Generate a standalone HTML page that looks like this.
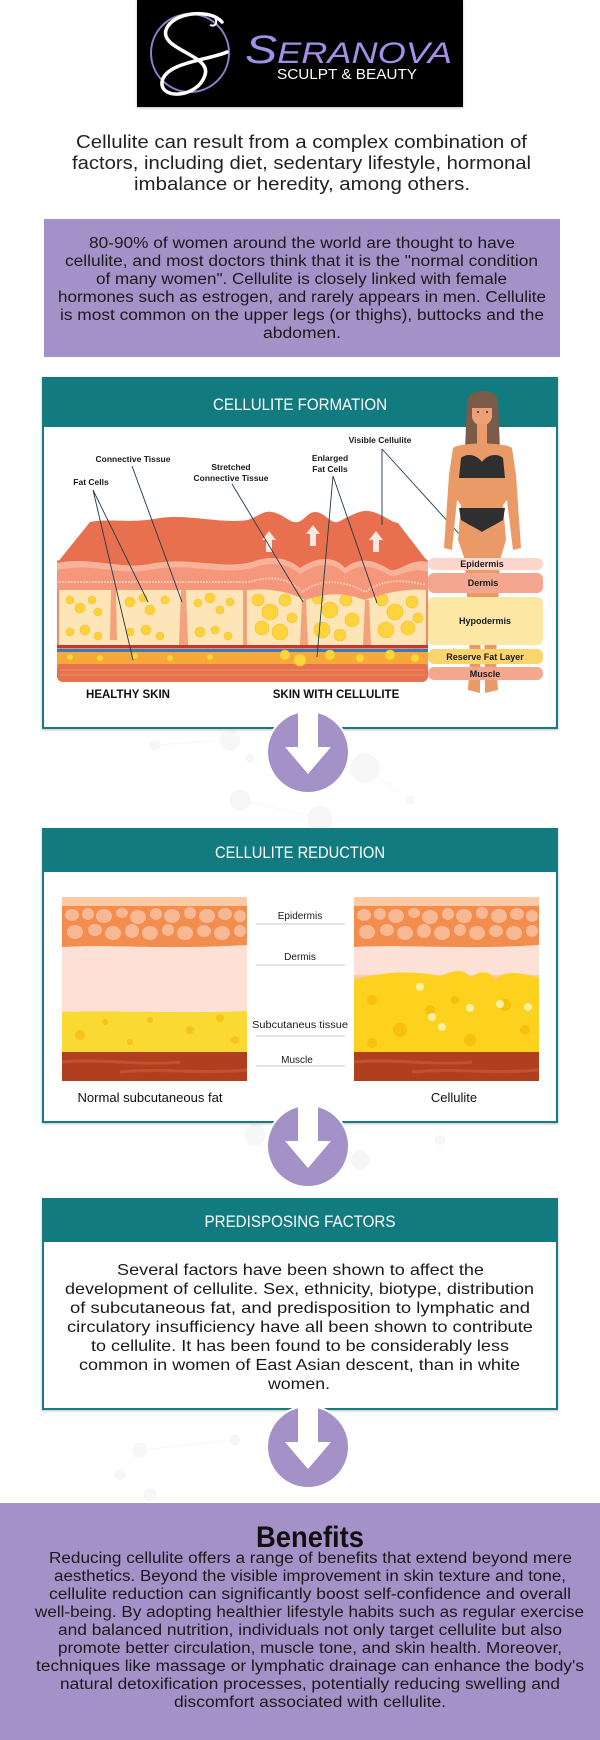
<!DOCTYPE html>
<html><head><meta charset="utf-8"><style>
html,body{margin:0;padding:0;background:#fff;}
svg{display:block;}
text{font-family:"Liberation Sans",sans-serif;}
</style></head><body>
<svg width="600" height="1740" viewBox="0 0 600 1740" xmlns="http://www.w3.org/2000/svg">
<defs>
<filter id="sh" x="-5%" y="-5%" width="110%" height="110%"><feDropShadow dx="0" dy="1" stdDeviation="1.2" flood-color="#000" flood-opacity="0.25"/></filter>
</defs>
<g fill="#f7f7f7" stroke="#f6f6f6" stroke-width="1">
<circle cx="230" cy="740" r="10"/><circle cx="155" cy="745" r="5"/><circle cx="250" cy="758" r="4"/><circle cx="365" cy="768" r="14"/><circle cx="240" cy="800" r="10"/><circle cx="320" cy="818" r="12"/><circle cx="410" cy="800" r="4"/>
<circle cx="255" cy="1135" r="10"/><circle cx="440" cy="1140" r="5"/><circle cx="360" cy="1160" r="9"/>
<circle cx="140" cy="1450" r="7"/><circle cx="120" cy="1475" r="5"/><circle cx="150" cy="1495" r="6"/><circle cx="235" cy="1440" r="5"/>
<line x1="155" y1="745" x2="230" y2="740"/><line x1="240" y1="800" x2="320" y2="818"/><line x1="365" y1="768" x2="410" y2="800"/>
<line x1="120" y1="1475" x2="140" y2="1450"/><line x1="140" y1="1450" x2="235" y2="1440"/>
</g>

<rect x="137" y="0" width="326" height="107" fill="#000" filter="url(#sh)"/>
<circle cx="190" cy="53" r="39" fill="none" stroke="#8f7fc9" stroke-width="2"/>
<path d="M222,22 C210,8 172,12 166,30 C160,50 212,55 205,75 C198,98 160,100 162,82 C165,62 210,60 227,52" fill="none" stroke="#fff" stroke-width="3.5" stroke-linecap="round"/>
<path d="M210,25 C218,28 218,18 212,15" fill="none" stroke="#fff" stroke-width="2"/>
<text x="245" y="63" font-family="Liberation Serif,serif" font-style="italic" font-size="30" fill="#a38fe6" textLength="207" lengthAdjust="spacingAndGlyphs"><tspan font-size="40">S</tspan>ERANOVA</text>
<text x="277" y="79" font-size="15" fill="#fff" textLength="140" lengthAdjust="spacingAndGlyphs">SCULPT &amp; BEAUTY</text>

<g font-size="18" fill="#222">
<text x="76" y="148" textLength="451" lengthAdjust="spacingAndGlyphs">Cellulite can result from a complex combination of</text>
<text x="72" y="169" textLength="459" lengthAdjust="spacingAndGlyphs">factors, including diet, sedentary lifestyle, hormonal</text>
<text x="134" y="190" textLength="336" lengthAdjust="spacingAndGlyphs">imbalance or heredity, among others.</text>
</g>

<rect x="44" y="219" width="516" height="138" fill="#a391c8"/>
<g font-size="15.5" fill="#1a1a1a">
<text x="89" y="248" textLength="426" lengthAdjust="spacingAndGlyphs">80-90% of women around the world are thought to have</text>
<text x="65" y="266" textLength="473" lengthAdjust="spacingAndGlyphs">cellulite, and most doctors think that it is the "normal condition</text>
<text x="96" y="284" textLength="411" lengthAdjust="spacingAndGlyphs">of many women". Cellulite is closely linked with female</text>
<text x="58" y="302" textLength="488" lengthAdjust="spacingAndGlyphs">hormones such as estrogen, and rarely appears in men. Cellulite</text>
<text x="60" y="320" textLength="484" lengthAdjust="spacingAndGlyphs">is most common on the upper legs (or thighs), buttocks and the</text>
<text x="263" y="338" textLength="78" lengthAdjust="spacingAndGlyphs">abdomen.</text>
</g>

<rect x="43" y="378" width="514" height="350" fill="#fff" stroke="#127b80" stroke-width="2" filter="url(#sh)"/>
<rect x="42" y="377" width="516" height="50" fill="#127b80"/>
<text x="300" y="410" text-anchor="middle" font-size="17" fill="#fff" textLength="174" lengthAdjust="spacingAndGlyphs">CELLULITE FORMATION</text>

<g>
<rect x="57" y="560" width="371" height="122" rx="6" fill="#ee8a64"/>
<rect x="57" y="663" width="371" height="19" rx="6" fill="#e87250"/>
<line x1="60" y1="670" x2="425" y2="670" stroke="#f09070" stroke-width="1"/>
<line x1="60" y1="675" x2="425" y2="675" stroke="#f09070" stroke-width="1"/>
<rect x="57" y="652" width="371" height="12" fill="#f6a93a"/>
<rect x="57" y="645" width="371" height="3" fill="#c9342c"/>
<rect x="57" y="649" width="371" height="3" fill="#2e7fbd"/>
<rect x="59" y="588" width="367" height="57" fill="#fde5b8"/>
<g fill="#f2a27d">
<path d="M111,590 L116,590 L117,640 L110,640Z"/><path d="M181,590 L186,590 L188,645 L179,645Z"/><path d="M243,590 L247,590 L247,645 L243,645Z"/><path d="M302,600 L306,600 L308,645 L300,645Z"/><path d="M365,600 L369,600 L371,645 L363,645Z"/>
</g>
<g fill="#fbd23c" stroke="#f7c02a" stroke-width="0.6">
<circle cx="70" cy="600" r="4"/><circle cx="80" cy="608" r="5"/><circle cx="92" cy="600" r="4"/><circle cx="98" cy="612" r="4"/><circle cx="130" cy="602" r="5"/><circle cx="143" cy="598" r="4"/><circle cx="150" cy="610" r="5"/><circle cx="165" cy="600" r="4"/><circle cx="198" cy="603" r="4"/><circle cx="210" cy="598" r="5"/><circle cx="220" cy="610" r="4"/><circle cx="230" cy="602" r="4"/>
<circle cx="70" cy="632" r="4"/><circle cx="85" cy="630" r="5"/><circle cx="98" cy="636" r="4"/><circle cx="130" cy="632" r="4"/><circle cx="146" cy="630" r="5"/><circle cx="160" cy="636" r="4"/><circle cx="200" cy="632" r="5"/><circle cx="215" cy="630" r="4"/><circle cx="228" cy="636" r="4"/>
</g>
<g fill="#fcd43f" stroke="#f5bd25" stroke-width="0.6">
<circle cx="258" cy="600" r="6"/><circle cx="270" cy="612" r="8"/><circle cx="285" cy="600" r="6"/><circle cx="262" cy="628" r="7"/><circle cx="280" cy="632" r="8"/><circle cx="292" cy="618" r="5"/>
<circle cx="318" cy="598" r="6"/><circle cx="330" cy="610" r="8"/><circle cx="346" cy="600" r="6"/><circle cx="352" cy="620" r="7"/><circle cx="322" cy="630" r="8"/><circle cx="340" cy="635" r="6"/>
<circle cx="382" cy="600" r="6"/><circle cx="395" cy="612" r="8"/><circle cx="412" cy="602" r="6"/><circle cx="386" cy="630" r="8"/><circle cx="408" cy="628" r="7"/><circle cx="418" cy="618" r="5"/>
<circle cx="70" cy="657" r="3"/><circle cx="100" cy="658" r="3"/><circle cx="135" cy="656" r="3"/><circle cx="170" cy="658" r="3"/><circle cx="210" cy="657" r="3"/><circle cx="285" cy="655" r="5"/><circle cx="300" cy="660" r="6"/><circle cx="330" cy="655" r="5"/><circle cx="360" cy="658" r="4"/><circle cx="390" cy="655" r="5"/><circle cx="415" cy="658" r="4"/>
</g>
<path d="M57,560 C90,566 120,556 150,562 C180,568 210,556 250,562 C270,548 290,548 300,565 C315,550 330,548 345,565 C360,548 375,548 395,565 C410,556 420,556 428,560 L428,590 C400,588 380,595 365,600 C350,595 335,590 305,600 C290,592 270,588 250,590 L57,590Z" fill="#f4977a"/>
<path d="M59,582 L250,582 C270,575 290,578 302,592 C320,578 345,580 365,592 C385,578 405,580 426,585" fill="none" stroke="#fbd3c1" stroke-width="2" stroke-dasharray="1.5 1.5"/>
<path d="M57,563 L90,522 C110,518 130,524 160,518 C190,514 220,524 248,520 C258,516 265,510 272,512 C284,514 290,524 298,522 C305,520 308,512 315,512 C325,512 330,524 338,522 C350,516 360,510 368,511 C380,512 390,522 398,523 L428,562 C410,558 400,572 390,570 C375,560 360,556 345,568 C335,556 318,556 300,568 C285,556 268,556 252,562 C220,570 190,556 150,564 C120,570 90,556 57,563Z" fill="#e9704f"/>
<path d="M57,563 C90,556 120,570 150,564 C190,556 220,570 252,562 C268,556 285,556 300,568 C318,556 335,556 345,568 C360,556 375,560 390,570 C400,572 410,558 428,562 L428,572 C410,566 400,578 390,576 C375,566 360,562 345,574 C335,562 318,562 300,574 C285,562 268,562 252,568 C220,576 190,562 150,570 C120,576 90,562 57,570Z" fill="#f7b29a"/>
<g fill="#fde8e1"><path d="M272,552 L266,552 L266,540 L262,540 L269,531 L276,540 L272,540Z"/><path d="M316,546 L310,546 L310,534 L306,534 L313,525 L320,534 L316,534Z"/><path d="M379,552 L373,552 L373,540 L369,540 L376,531 L383,540 L379,540Z"/></g>
</g>
<g stroke="#1d3a4e" stroke-width="0.9" fill="none">
<path d="M93,490 L148,602 M93,490 L133,660"/>
<path d="M132,466 L182,602"/>
<path d="M232,484 L303,602"/>
<path d="M333,476 L377,603 M333,476 L317,657"/>
<path d="M382,449 L382,525 M382,449 L461,536"/>
</g>
<g font-size="8.5" font-weight="bold" fill="#1a1a1a" text-anchor="middle">
<text x="91" y="485">Fat Cells</text>
<text x="133" y="462">Connective Tissue</text>
<text x="231" y="470">Stretched</text>
<text x="231" y="481">Connective Tissue</text>
<text x="330" y="461">Enlarged</text>
<text x="330" y="472">Fat Cells</text>
<text x="380" y="443">Visible Cellulite</text>
</g>
<text x="128" y="698" text-anchor="middle" font-size="11.5" font-weight="bold" fill="#111">HEALTHY SKIN</text>
<text x="336" y="698" text-anchor="middle" font-size="11.5" font-weight="bold" fill="#111">SKIN WITH CELLULITE</text>

<g>
<path d="M467,400 C470,388 495,388 498,400 L500,450 L465,450Z" fill="#7a5a48"/>
<path d="M453,448 C460,442 505,442 512,448 L516,475 L521,548 L513,550 L507,500 L503,505 L506,540 L500,560 L496,660 L498,690 L485,693 L484,600 L481,600 L480,693 L468,690 L470,660 L465,560 L458,540 L461,505 L457,500 L452,550 L444,548 L449,475Z" fill="#e99a66"/>
<ellipse cx="482" cy="412" rx="11" ry="14" fill="#eca276"/>
<rect x="477" y="424" width="10" height="20" fill="#e99a66"/>
<path d="M469,404 C472,394 492,394 495,404 L495,430 L492,430 L492,408 L472,408 L472,430 L469,430Z" fill="#7a5a48"/>
<path d="M461,458 C468,452 478,456 482,462 C486,456 496,452 503,458 L505,478 L459,478Z" fill="#2f2f2f"/>
<path d="M459,508 L505,508 L503,520 C495,525 488,528 482,532 C476,528 469,525 461,520Z" fill="#2f2f2f"/>
<circle cx="478" cy="412" r="1" fill="#333"/><circle cx="487" cy="412" r="1" fill="#333"/>
</g>
<g>
<rect x="428" y="558" width="115" height="12" rx="6" fill="#fcd6cc"/>
<rect x="428" y="573" width="115" height="20" rx="6" fill="#f5a68e"/>
<rect x="428" y="597" width="115" height="48" rx="6" fill="#fde7a4"/>
<rect x="428" y="649" width="115" height="15" rx="6" fill="#fcd46e"/>
<rect x="428" y="667" width="115" height="13" rx="6" fill="#f5a68e"/>
</g>
<g font-size="9" font-weight="bold" fill="#1a1a1a" text-anchor="middle">
<text x="482" y="567">Epidermis</text>
<text x="483" y="586">Dermis</text>
<text x="485" y="624">Hypodermis</text>
<text x="485" y="660">Reserve Fat Layer</text>
<text x="485" y="677">Muscle</text>
</g>

<rect x="43" y="829" width="514" height="293" fill="#fff" stroke="#127b80" stroke-width="2" filter="url(#sh)"/>
<rect x="42" y="828" width="516" height="44" fill="#127b80"/>
<text x="300" y="858" text-anchor="middle" font-size="17" fill="#fff" textLength="170" lengthAdjust="spacingAndGlyphs">CELLULITE REDUCTION</text>

<g>
<rect x="62" y="897" width="185" height="184" fill="#fbc9a3"/>
<rect x="62" y="906" width="185" height="43" fill="#f38d4e"/>
<g fill="#f8b894">
<ellipse cx="72" cy="915" rx="7" ry="6"/><ellipse cx="88" cy="914" rx="6" ry="6"/><ellipse cx="104" cy="916" rx="8" ry="7"/><ellipse cx="122" cy="913" rx="6" ry="5"/><ellipse cx="138" cy="917" rx="8" ry="7"/><ellipse cx="156" cy="914" rx="6" ry="6"/><ellipse cx="172" cy="916" rx="8" ry="7"/><ellipse cx="190" cy="913" rx="6" ry="6"/><ellipse cx="207" cy="916" rx="8" ry="7"/><ellipse cx="225" cy="914" rx="7" ry="6"/><ellipse cx="240" cy="916" rx="6" ry="6"/>
<ellipse cx="75" cy="932" rx="8" ry="7"/><ellipse cx="95" cy="930" rx="7" ry="6"/><ellipse cx="113" cy="933" rx="8" ry="7"/><ellipse cx="132" cy="931" rx="7" ry="7"/><ellipse cx="150" cy="933" rx="8" ry="7"/><ellipse cx="168" cy="930" rx="6" ry="6"/><ellipse cx="185" cy="933" rx="8" ry="7"/><ellipse cx="204" cy="931" rx="7" ry="6"/><ellipse cx="222" cy="933" rx="8" ry="7"/><ellipse cx="240" cy="931" rx="6" ry="6"/>
</g>
<path d="M62,947 C110,944 160,950 247,945 L247,1012 L62,1012Z" fill="#fde0d6"/>
<path d="M62,1012 C120,1010 180,1014 247,1011 L247,1052 L62,1052Z" fill="#fbd933"/>
<g fill="#f7c417"><circle cx="80" cy="1035" r="5"/><circle cx="105" cy="1022" r="3"/><circle cx="150" cy="1020" r="3"/><circle cx="190" cy="1030" r="4"/><circle cx="220" cy="1018" r="4"/><circle cx="235" cy="1040" r="4"/><circle cx="130" cy="1042" r="3"/></g>
<rect x="62" y="1052" width="185" height="29" fill="#b03f1f"/>
<path d="M62,1062 C100,1058 140,1066 180,1062 M120,1072 C160,1068 200,1074 247,1070" stroke="#c2522c" stroke-width="3" fill="none"/>
</g>
<g>
<rect x="354" y="897" width="185" height="184" fill="#fbc9a3"/>
<rect x="354" y="906" width="185" height="43" fill="#f38d4e"/>
<g fill="#f8b894">
<ellipse cx="364" cy="915" rx="7" ry="6"/><ellipse cx="380" cy="914" rx="6" ry="6"/><ellipse cx="396" cy="916" rx="8" ry="7"/><ellipse cx="414" cy="913" rx="6" ry="5"/><ellipse cx="430" cy="917" rx="8" ry="7"/><ellipse cx="448" cy="914" rx="6" ry="6"/><ellipse cx="464" cy="916" rx="8" ry="7"/><ellipse cx="482" cy="913" rx="6" ry="6"/><ellipse cx="499" cy="916" rx="8" ry="7"/><ellipse cx="517" cy="914" rx="7" ry="6"/><ellipse cx="532" cy="916" rx="6" ry="6"/>
<ellipse cx="367" cy="932" rx="8" ry="7"/><ellipse cx="387" cy="930" rx="7" ry="6"/><ellipse cx="405" cy="933" rx="8" ry="7"/><ellipse cx="424" cy="931" rx="7" ry="7"/><ellipse cx="442" cy="933" rx="8" ry="7"/><ellipse cx="460" cy="930" rx="6" ry="6"/><ellipse cx="477" cy="933" rx="8" ry="7"/><ellipse cx="496" cy="931" rx="7" ry="6"/><ellipse cx="514" cy="933" rx="8" ry="7"/><ellipse cx="532" cy="931" rx="6" ry="6"/>
</g>
<path d="M354,947 C400,944 460,950 539,945 L539,975 L354,975Z" fill="#fde0d6"/>
<path d="M354,980 C380,972 410,970 440,976 C455,970 465,968 470,978 C480,970 490,970 495,980 C505,970 520,972 539,978 L539,1052 L354,1052Z" fill="#fcd21e"/>
<g fill="#f7bf0e"><circle cx="372" cy="1000" r="5"/><circle cx="400" cy="1030" r="7"/><circle cx="430" cy="1010" r="5"/><circle cx="470" cy="1040" r="6"/><circle cx="505" cy="1005" r="6"/><circle cx="525" cy="1030" r="5"/><circle cx="372" cy="1043" r="5"/><circle cx="455" cy="1000" r="4"/></g>
<g fill="#fdf0a0"><circle cx="420" cy="987" r="4"/><circle cx="470" cy="1008" r="4"/><circle cx="500" cy="1004" r="4"/><circle cx="432" cy="1017" r="4"/><circle cx="442" cy="1027" r="4"/><circle cx="528" cy="1007" r="4"/></g>
<rect x="354" y="1052" width="185" height="29" fill="#b03f1f"/>
<path d="M354,1062 C392,1058 432,1066 472,1062 M412,1072 C452,1068 492,1074 539,1070" stroke="#c2522c" stroke-width="3" fill="none"/>
</g>
<g stroke="#c8c8c8" stroke-width="1">
<line x1="256" y1="924" x2="345" y2="924"/><line x1="256" y1="965" x2="345" y2="965"/><line x1="256" y1="1036" x2="345" y2="1036"/><line x1="256" y1="1066" x2="345" y2="1066"/>
</g>
<g font-size="10" fill="#1a1a1a" text-anchor="middle">
<text x="300" y="919">Epidermis</text>
<text x="300" y="960">Dermis</text>
<text x="300" y="1028" textLength="96" lengthAdjust="spacingAndGlyphs">Subcutaneus tissue</text>
<text x="297" y="1063">Muscle</text>
</g>
<text x="150" y="1102" text-anchor="middle" font-size="13" fill="#111" textLength="145" lengthAdjust="spacingAndGlyphs">Normal subcutaneous fat</text>
<text x="454" y="1102" text-anchor="middle" font-size="13" fill="#111">Cellulite</text>

<rect x="43" y="1199" width="514" height="210" fill="#fff" stroke="#127b80" stroke-width="2" filter="url(#sh)"/>
<rect x="42" y="1198" width="516" height="44" fill="#127b80"/>
<text x="300" y="1227" text-anchor="middle" font-size="17" fill="#fff" textLength="191" lengthAdjust="spacingAndGlyphs">PREDISPOSING FACTORS</text>
<g font-size="16" fill="#1a1a1a">
<text x="117" y="1275" textLength="367" lengthAdjust="spacingAndGlyphs">Several factors have been shown to affect the</text>
<text x="65" y="1294" textLength="469" lengthAdjust="spacingAndGlyphs">development of cellulite. Sex, ethnicity, biotype, distribution</text>
<text x="70" y="1313" textLength="460" lengthAdjust="spacingAndGlyphs">of subcutaneous fat, and predisposition to lymphatic and</text>
<text x="67" y="1332" textLength="466" lengthAdjust="spacingAndGlyphs">circulatory insufficiency have all been shown to contribute</text>
<text x="91" y="1351" textLength="418" lengthAdjust="spacingAndGlyphs">to cellulite. It has been found to be considerably less</text>
<text x="79" y="1370" textLength="441" lengthAdjust="spacingAndGlyphs">common in women of East Asian descent, than in white</text>
<text x="268" y="1389" textLength="62" lengthAdjust="spacingAndGlyphs">women.</text>
</g>

<g>
<circle cx="308" cy="752" r="42" fill="#fff"/><circle cx="308" cy="752" r="40" fill="#a391c8"/>
<path d="M298,708 L318,708 L318,747 L331,747 L308,774 L285,747 L298,747Z" fill="#fff"/>
</g>
<g>
<circle cx="308" cy="1146" r="42" fill="#fff"/><circle cx="308" cy="1146" r="40" fill="#a391c8"/>
<path d="M298,1102 L318,1102 L318,1141 L331,1141 L308,1168 L285,1141 L298,1141Z" fill="#fff"/>
</g>
<g>
<circle cx="308" cy="1447" r="42" fill="#fff"/><circle cx="308" cy="1447" r="40" fill="#a391c8"/>
<path d="M298,1403 L318,1403 L318,1442 L331,1442 L308,1469 L285,1442 L298,1442Z" fill="#fff"/>
</g>

<rect x="0" y="1503" width="600" height="237" fill="#a391c8"/>
<text x="310" y="1547" text-anchor="middle" font-size="30" font-weight="bold" fill="#111" textLength="108" lengthAdjust="spacingAndGlyphs">Benefits</text>
<g font-size="15.5" fill="#1a1a1a">
<text x="49" y="1563" textLength="523" lengthAdjust="spacingAndGlyphs">Reducing cellulite offers a range of benefits that extend beyond mere</text>
<text x="54" y="1581" textLength="512" lengthAdjust="spacingAndGlyphs">aesthetics. Beyond the visible improvement in skin texture and tone,</text>
<text x="49" y="1599" textLength="522" lengthAdjust="spacingAndGlyphs">cellulite reduction can significantly boost self-confidence and overall</text>
<text x="35" y="1617" textLength="549" lengthAdjust="spacingAndGlyphs">well-being. By adopting healthier lifestyle habits such as regular exercise</text>
<text x="58" y="1635" textLength="504" lengthAdjust="spacingAndGlyphs">and balanced nutrition, individuals not only target cellulite but also</text>
<text x="58" y="1653" textLength="504" lengthAdjust="spacingAndGlyphs">promote better circulation, muscle tone, and skin health. Moreover,</text>
<text x="36" y="1671" textLength="548" lengthAdjust="spacingAndGlyphs">techniques like massage or lymphatic drainage can enhance the body's</text>
<text x="60" y="1689" textLength="500" lengthAdjust="spacingAndGlyphs">natural detoxification processes, potentially reducing swelling and</text>
<text x="174" y="1707" textLength="272" lengthAdjust="spacingAndGlyphs">discomfort associated with cellulite.</text>
</g>
</svg>
</body></html>
